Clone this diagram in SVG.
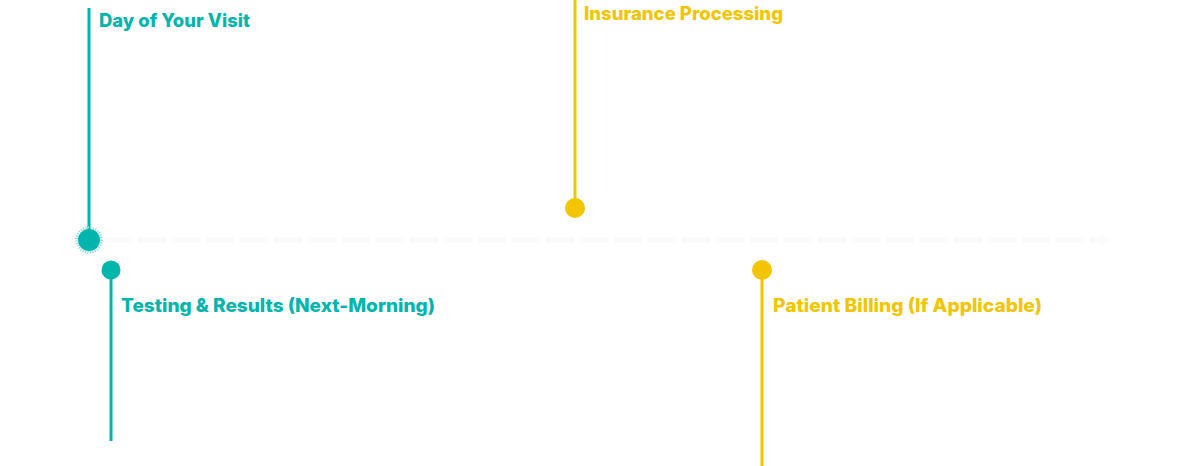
<svg xmlns="http://www.w3.org/2000/svg" width="1200" height="466" viewBox="0 0 1200 466">
<defs>
<style>
.title{font-family:Inter,"Liberation Sans",sans-serif;font-weight:800;font-size:18.5px}
.teal{fill:#00b5ab}
.gold{fill:#f2c500}
.body{font-family:Inter,"Liberation Sans",sans-serif;font-size:17px;fill:#ffffff}
.tl{stroke:#00b5ab;stroke-width:3}
.gl{stroke:#f2c500;stroke-width:3}
</style>
<marker id="arr" viewBox="0 0 12 12" refX="10" refY="6" markerWidth="12" markerHeight="12" orient="auto" markerUnits="userSpaceOnUse">
<path d="M0,0 L12,6 L0,12" fill="none" stroke="#fbfbfb" stroke-width="2"/>
</marker>
</defs>
<rect width="1200" height="466" fill="#ffffff"/>
<g id="connectors">
<line x1="104" y1="240" x2="1108" y2="240" stroke="#fbfbfb" stroke-width="6" stroke-dasharray="28 6" marker-end="url(#arr)"/>
<line class="tl" x1="89" y1="8" x2="89" y2="230"/>
<line class="gl" x1="575" y1="0" x2="575" y2="200"/>
<line class="tl" x1="111" y1="272" x2="111" y2="441"/>
<line class="gl" x1="762" y1="272" x2="762" y2="466"/>
</g>
<g id="node-day-of-visit">
<circle cx="89" cy="240" r="12.5" fill="none" stroke="#7fd9d4" stroke-width="2.5" stroke-dasharray="1 1.5"/>
<circle cx="89" cy="240" r="11" class="teal"/>
<text class="title teal" x="99" y="27" textLength="151" lengthAdjust="spacingAndGlyphs">Day of Your Visit</text>
<text class="body" x="113" y="52">• Check in at the front desk and fill</text>
<text class="body" x="122" y="75">out a short intake form</text>
<text class="body" x="113" y="108">• Share your health history and</text>
<text class="body" x="122" y="131">any medications you take</text>
<text class="body" x="113" y="164">• Your sample is collected by</text>
<text class="body" x="122" y="187">our trained lab staff</text>
</g>
<g id="node-insurance">
<circle cx="575" cy="208" r="10" class="gold"/>
<text class="title gold" x="584" y="20" textLength="199" lengthAdjust="spacingAndGlyphs">Insurance Processing</text>
<text class="body" x="594" y="44">• We'll file the claim</text>
<text class="body" x="604" y="67">with your insurance</text>
<text class="body" x="594" y="101">• Claims are reviewed by</text>
<text class="body" x="604" y="124">the insurance provider</text>
<text class="body" x="594" y="158">• This process can take</text>
<text class="body" x="604" y="181">several weeks</text>
</g>
<g id="node-testing">
<circle cx="111" cy="270" r="9.5" class="teal"/>
<text class="title teal" x="121" y="312" textLength="314" lengthAdjust="spacingAndGlyphs">Testing &amp; Results (Next-Morning)</text>
<text class="body" x="132" y="338">• Your sample is tested overnight in our lab</text>
<text class="body" x="132" y="368">• Results are ready the next morning</text>
<text class="body" x="132" y="398">• Your provider will review the results</text>
<text class="body" x="142" y="421">and contact you with next steps</text>
</g>
<g id="node-billing">
<circle cx="762" cy="270" r="10" class="gold"/>
<text class="title gold" x="773" y="312" textLength="269" lengthAdjust="spacingAndGlyphs">Patient Billing (If Applicable)</text>
<text class="body" x="785" y="336">• You'll receive a statement for any</text>
<text class="body" x="795" y="359">remaining balance after insurance</text>
<text class="body" x="785" y="393">• Payment plans are available upon</text>
<text class="body" x="795" y="416">request</text>
<text class="body" x="785" y="450">• Questions? Contact our billing office</text>
</g>
</svg>
